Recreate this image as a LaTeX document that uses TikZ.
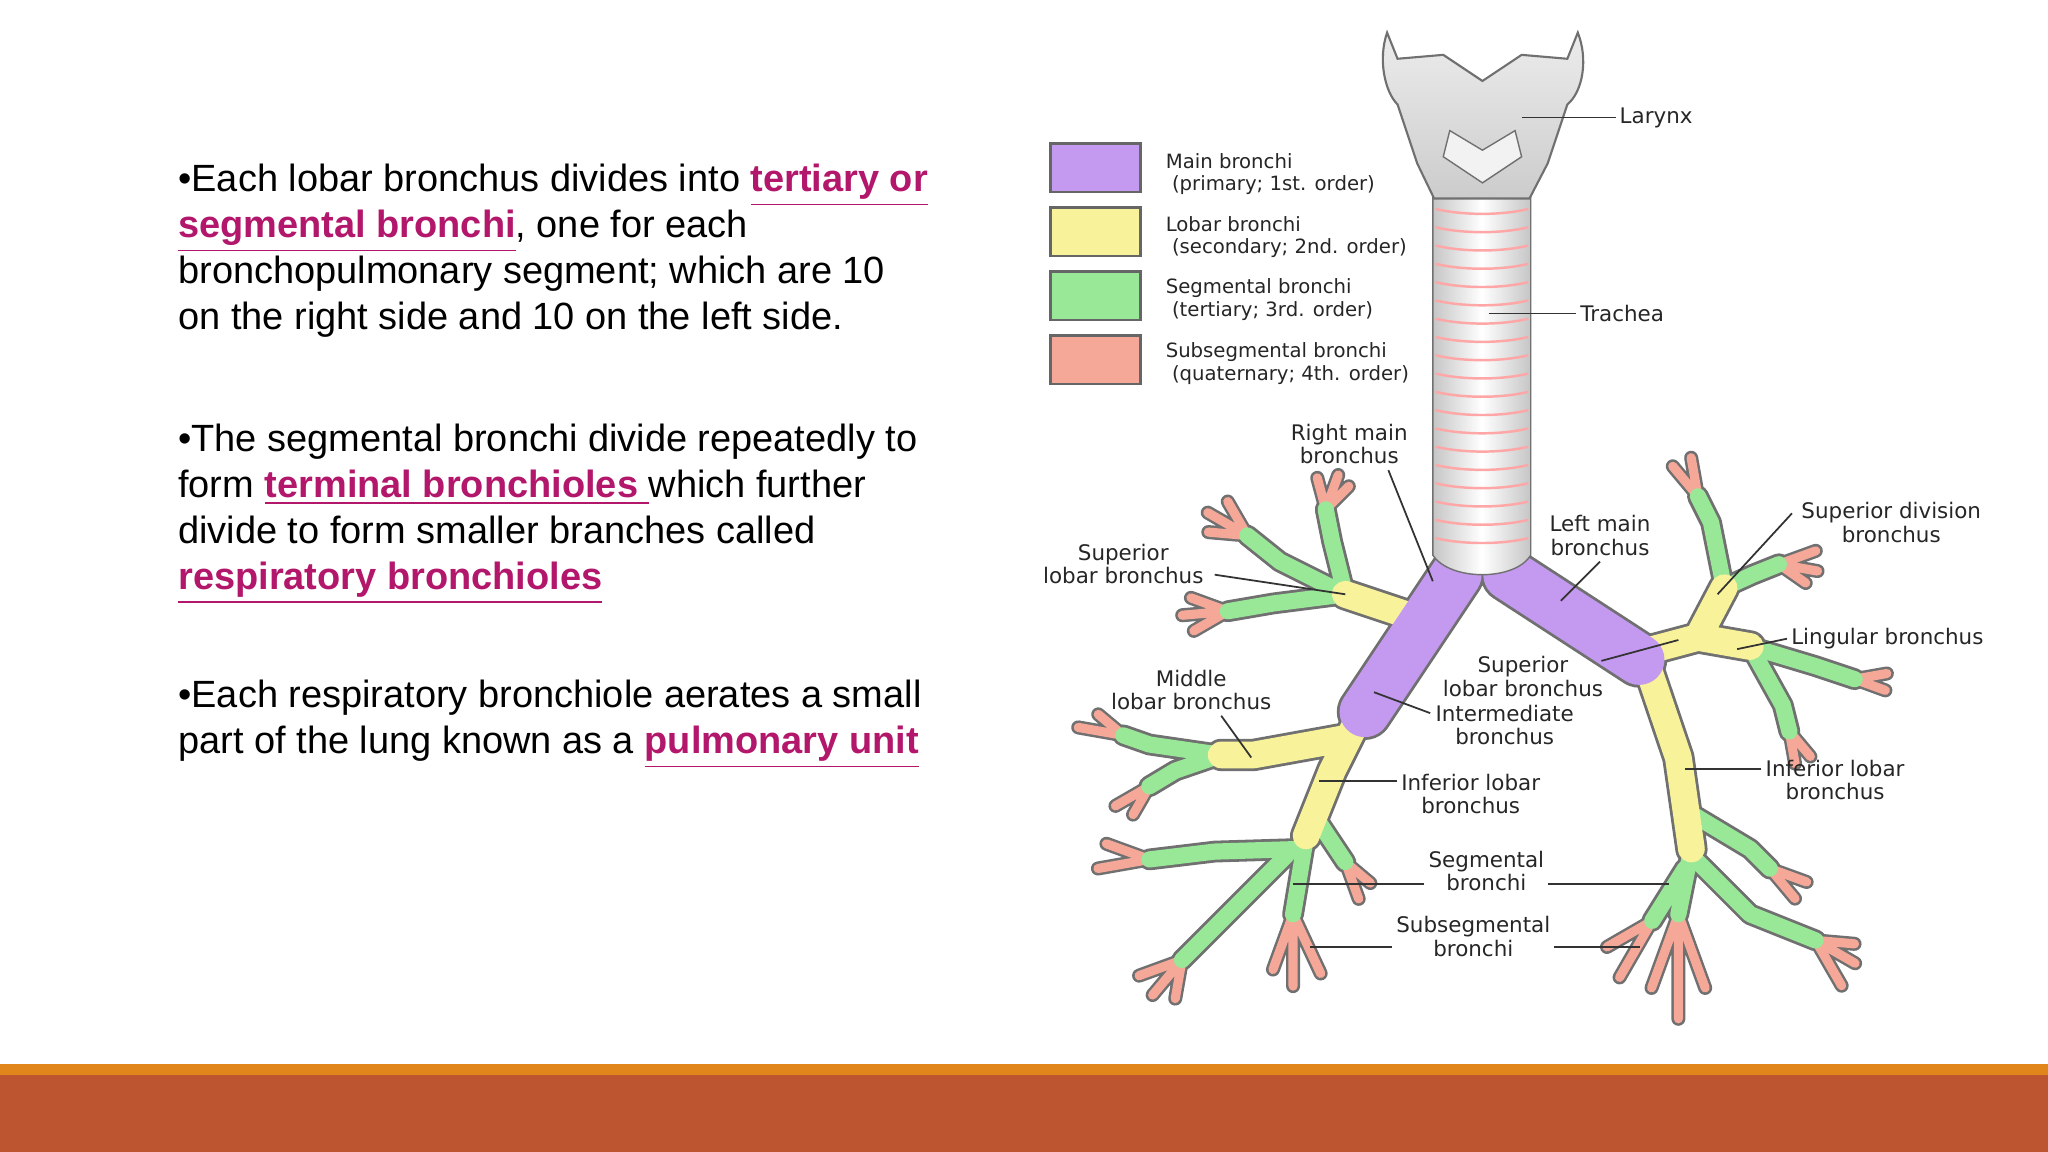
\documentclass[tikz,border=0pt]{standalone}
\usepackage{fontspec}
\setmainfont{Liberation Sans}
\newfontfamily\lab{DejaVu Sans}
\definecolor{lnk}{HTML}{B3176B}
\definecolor{orn}{HTML}{E0861A}
\definecolor{rst}{HTML}{BC5530}
\definecolor{pur}{HTML}{C49AF0}
\definecolor{yel}{HTML}{F8F39A}
\definecolor{grn}{HTML}{98E898}
\definecolor{sal}{HTML}{F5A898}
\definecolor{outl}{HTML}{707070}
\newcommand{\lk}[1]{\textbf{\color{lnk}\underline{#1}}}
\newcommand{\sbpath}{%
 (1015,390) -- ++(-70:28) (1015,390) -- ++(-105:25) (1015,390) -- ++(-45:25)
 (955,410) -- ++(-150:35) (955,410) -- ++(-120:30) (955,410) -- ++(-175:30)
 (940,468) -- ++(175:35) (940,468) -- ++(150:30) (940,468) -- ++(200:30)
 (860,563) -- ++(-170:35) (860,563) -- ++(-140:25)
 (880,602) -- ++(150:30) (880,602) -- ++(120:25)
 (990,700) -- ++(90:55) (990,700) -- ++(110:45) (990,700) -- ++(65:50)
 (880,658) -- ++(170:40) (880,658) -- ++(200:35)
 (905,735) -- ++(130:35) (905,735) -- ++(160:35) (905,735) -- ++(100:30)
 (1030,660) -- ++(70:30) (1030,660) -- ++(40:25)
 (1300,380) -- ++(-100:30) (1300,380) -- ++(-130:30)
 (1362,432) -- ++(-20:30) (1362,432) -- ++(10:30) (1362,432) -- ++(35:25)
 (1420,520) -- ++(20:25) (1420,520) -- ++(-10:25)
 (1370,560) -- ++(80:25) (1370,560) -- ++(50:25)
 (1285,700) -- ++(90:80) (1285,700) -- ++(70:60) (1285,700) -- ++(110:60)
 (1355,665) -- ++(50:30) (1355,665) -- ++(20:30)
 (1390,720) -- ++(30:35) (1390,720) -- ++(60:40) (1390,720) -- ++(5:30)
 (1265,705) -- ++(120:50) (1265,705) -- ++(150:40)}
\newcommand{\sgpath}{%
 (1030,455) -- (1020,415) -- (1015,390)
 (1030,455) -- (980,430) -- (955,410)
 (1030,455) -- (975,462) -- (940,468)
 (935,578) -- (880,570) -- (860,563)
 (935,578) -- (900,590) -- (880,602)
 (1000,640) -- (990,700)
 (995,650) -- (930,652) -- (880,658)
 (985,655) -- (940,700) -- (905,735)
 (1010,630) -- (1030,660)
 (1320,450) -- (1310,400) -- (1300,380)
 (1320,450) -- (1342,440) -- (1362,432)
 (1340,495) -- (1390,510) -- (1420,520)
 (1340,495) -- (1365,540) -- (1370,560)
 (1295,650) -- (1285,700)
 (1290,620) -- (1340,650) -- (1355,665)
 (1300,660) -- (1340,700) -- (1390,720)
 (1290,665) -- (1265,705)}
\newcommand{\lbpath}{%
 (1075,470) -- (1030,455)
 (1045,540) -- (1020,590) -- (1000,640)
 (1032,565) -- (960,578) -- (935,578)
 (1255,500) -- (1300,488) -- (1320,450)
 (1300,488) -- (1340,495)
 (1262,512) -- (1285,580) -- (1295,650)}
\newcommand{\mbpath}{(1115,440) -- (1045,545) (1155,440) -- (1255,505)}
\tikzset{x=0.01306cm,y=-0.01306cm,
 body/.style={font=\fontsize{10.8pt}{13.2pt}\selectfont,anchor=base west,inner sep=0pt},
 lbl/.style={font=\lab\fontsize{6.1pt}{6.6pt}\selectfont,align=center,inner sep=1pt,text=black!85},
 leg/.style={font=\lab\fontsize{5.6pt}{6.4pt}\selectfont,align=left,anchor=north west,inner sep=0pt,text=black!85},
 box/.style={draw=black!60,line width=0.8pt},
 lead/.style={draw=black!80,line width=0.5pt},
 br/.style={line cap=round,line join=round}}
\begin{document}
\begin{tikzpicture}
\useasboundingbox (0,0) rectangle (1568,882);
\fill[white] (0,0) rectangle (1568,882);
\fill[orn] (0,815) rectangle (1568,823);
\fill[rst] (0,823) rectangle (1568,882);
% body text
\node[body] (l1) at (136,147) {•Each lobar bronchus divides into \lk{tertiary or}};
\node[body] (l2) at (136,182) {\lk{segmental bronchi}, one for each};
\node[body] (l3) at (136,217) {bronchopulmonary segment; which are 10};
\node[body] (l4) at (136,252) {on the right side and 10 on the left side.};
\node[body] (l5) at (136,346) {•The segmental bronchi divide repeatedly to};
\node[body] (l6) at (136,381) {form \lk{terminal bronchioles }which further};
\node[body] (l7) at (136,416) {divide to form smaller branches called};
\node[body] (l8) at (136,451) {\lk{respiratory bronchioles}};
\node[body] (l9) at (136,542) {•Each respiratory bronchiole aerates a small};
\node[body] (l10) at (136,577) {part of the lung known as a \lk{pulmonary unit}};
% legend
\draw[box,fill=pur] (804,110) rectangle (873,147);
\draw[box,fill=yel] (804,159) rectangle (873,196);
\draw[box,fill=grn] (804,208) rectangle (873,245);
\draw[box,fill=sal] (804,257) rectangle (873,294);
\node[leg] (g1) at (892,117) {Main bronchi\\\ (primary; 1st. order)};
\node[leg] (g2) at (892,165) {Lobar bronchi\\\ (secondary; 2nd. order)};
\node[leg] (g3) at (892,213) {Segmental bronchi\\\ (tertiary; 3rd. order)};
\node[leg] (g4) at (892,262) {Subsegmental bronchi\\\ (quaternary; 4th. order)};
% bronchial tree outlines
\draw[br,outl,line width=4pt] \sbpath;
\draw[br,outl,line width=6.2pt] \sgpath;
\draw[br,outl,line width=9.2pt] \lbpath;
\draw[br,outl,line width=16pt] \mbpath;
\draw[br,sal,line width=2.6pt] \sbpath;
\draw[br,grn,line width=4.6pt] \sgpath;
\draw[br,yel,line width=7.6pt] \lbpath;
\draw[br,pur,line width=14.4pt] \mbpath;
% trachea
\shade[left color=gray!45,right color=gray!45,middle color=white,draw=outl] (1097,150) -- (1097,425) .. controls (1110,445) and (1160,445) .. (1172,425) -- (1172,150) -- cycle;
\foreach \yy in {160,174,...,425}
  \draw[red!35,line width=0.7pt] (1099,\yy) .. controls (1120,\yy+5) and (1150,\yy+5) .. (1170,\yy);
% larynx
\shade[top color=gray!15,bottom color=gray!40,draw=outl,line width=0.6pt] (1062,25) .. controls (1055,45) and (1060,70) .. (1070,80) -- (1085,125) -- (1098,152) -- (1171,152) -- (1185,125) -- (1200,80) .. controls (1212,70) and (1216,45) .. (1208,25) -- (1200,45) -- (1165,42) -- (1135,62) -- (1105,42) -- (1070,45) -- cycle;
\draw[outl,fill=gray!10] (1105,120) -- (1135,140) -- (1165,120) -- (1160,100) -- (1135,115) -- (1110,100) -- cycle;
% labels
\node[lbl] (larynx) at (1268,90) {Larynx};
\coordinate (plar) at (1165,90);
\draw[lead] (plar) -- (larynx.west);
\node[lbl] (trach) at (1242,240) {Trachea};
\coordinate (ptr) at (1140,240);
\draw[lead] (ptr) -- (trach.west);
\node[lbl] (rmb) at (1033,340) {Right main\\bronchus};
\coordinate (prmb) at (1097,445);
\draw[lead] (1063,360) -- (prmb);
\node[lbl] (slbR) at (860,432) {Superior\\lobar bronchus};
\coordinate (pslbR) at (1030,455);
\draw[lead] (930,440) -- (pslbR);
\node[lbl] (lmb) at (1225,410) {Left main\\bronchus};
\coordinate (plmb) at (1195,460);
\draw[lead] (1225,430) -- (plmb);
\node[lbl] (sdb) at (1448,400) {Superior division\\bronchus};
\coordinate (psdb) at (1315,455);
\draw[lead] (1372,393) -- (psdb);
\node[lbl] (ling) at (1445,489) {Lingular bronchus};
\coordinate (pling) at (1330,497);
\draw[lead] (ling.west) -- (pling);
\node[lbl] (slbL) at (1166,518) {Superior\\lobar bronchus};
\coordinate (pslbL) at (1285,490);
\draw[lead] (1226,506) -- (pslbL);
\node[lbl] (mlb) at (912,528) {Middle\\lobar bronchus};
\coordinate (pmlb) at (958,580);
\draw[lead] (935,548) -- (pmlb);
\node[lbl] (ib) at (1152,555) {Intermediate\\bronchus};
\coordinate (pib) at (1052,530);
\draw[lead] (1095,546) -- (pib);
\node[lbl] (ilbR) at (1126,608) {Inferior lobar\\bronchus};
\coordinate (pilbR) at (1010,598);
\draw[lead] (pilbR -| ilbR.west) -- (pilbR);
\node[lbl] (ilbL) at (1405,597) {Inferior lobar\\bronchus};
\coordinate (pilbL) at (1290,589);
\draw[lead] (pilbL -| ilbL.west) -- (pilbL);
\node[lbl] (seg) at (1138,667) {Segmental\\bronchi};
\coordinate (psegR) at (990,677);
\coordinate (psegL) at (1278,677);
\draw[lead] (psegR -| seg.west) -- (psegR);
\draw[lead] (psegL -| seg.east) -- (psegL);
\node[lbl] (sub) at (1128,717) {Subsegmental\\bronchi};
\coordinate (psubR) at (1003,725);
\coordinate (psubL) at (1256,725);
\draw[lead] (psubR -| sub.west) -- (psubR);
\draw[lead] (psubL -| sub.east) -- (psubL);
\end{tikzpicture}
\end{document}
